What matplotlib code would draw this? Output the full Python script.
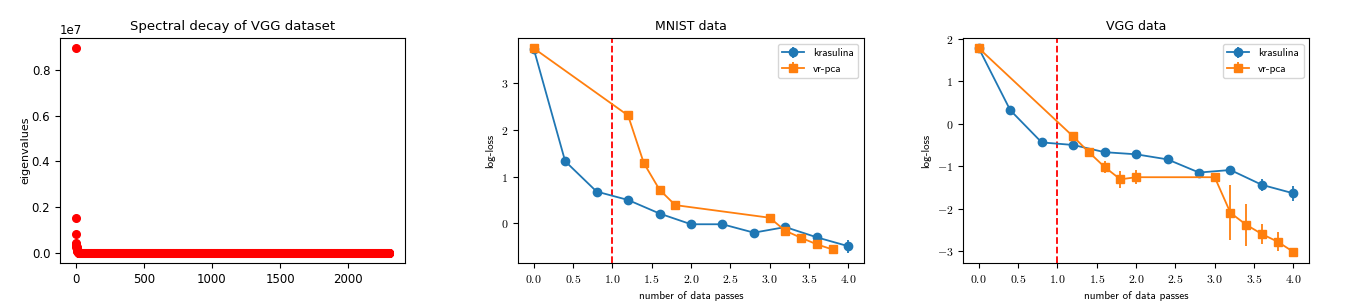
import os
import numpy as np
import matplotlib
matplotlib.use('Agg')
import matplotlib.pyplot as plt
from matplotlib.ticker import FuncFormatter, ScalarFormatter
from matplotlib.font_manager import FontProperties

plt.rcParams['mathtext.fontset'] = 'cm'

# spectral decay of VGG: leading eigenvalues, rest are ~0 at this scale
eig_head = [8.95e6, 1.55e6, 0.82e6, 0.42e6, 0.38e6, 0.33e6, 0.28e6, 0.24e6,
            0.20e6, 0.17e6, 0.14e6, 0.12e6, 0.10e6, 0.08e6, 0.07e6, 0.06e6,
            0.05e6, 0.04e6, 0.035e6, 0.03e6, 0.025e6, 0.02e6]
n_eig = 2304
eig_tail_value = 1e4

passes_kras = [0.0, 0.4, 0.8, 1.2, 1.6, 2.0, 2.4, 2.8, 3.2, 3.6, 4.0]
passes_vr = [0.0, 1.2, 1.4, 1.6, 1.8, 3.0, 3.2, 3.4, 3.6, 3.8]
passes_vr_vgg = [0.0, 1.2, 1.4, 1.6, 1.8, 2.0, 3.0, 3.2, 3.4, 3.6, 3.8, 4.0]

mnist_kras = [3.74, 1.33, 0.68, 0.50, 0.21, -0.02, -0.02, -0.20, -0.08, -0.30, -0.49]
mnist_kras_err = [0.0, 0.02, 0.02, 0.02, 0.02, 0.02, 0.02, 0.02, 0.03, 0.04, 0.14]
mnist_vr = [3.75, 2.31, 1.29, 0.72, 0.39, 0.12, -0.16, -0.31, -0.45, -0.56]
mnist_vr_err = [0.0, 0.02, 0.02, 0.02, 0.02, 0.02, 0.02, 0.02, 0.02, 0.02]

vgg_kras = [1.78, 0.32, -0.44, -0.50, -0.67, -0.72, -0.84, -1.15, -1.09, -1.44, -1.64]
vgg_kras_err = [0.0, 0.02, 0.02, 0.02, 0.02, 0.02, 0.02, 0.03, 0.03, 0.14, 0.17]
vgg_vr = [1.78, -0.30, -0.67, -1.02, -1.31, -1.26, -1.26, -2.10, -2.38, -2.60, -2.78, -3.02]
vgg_vr_err = [0.0, 0.02, 0.03, 0.15, 0.20, 0.16, 0.11, 0.65, 0.50, 0.23, 0.23, 0.02]

cmss_path = os.path.join(matplotlib.get_data_path(), 'fonts/ttf/cmss10.ttf')
cmss = FontProperties(fname=cmss_path, size=8)
leg_font = FontProperties(fname=cmss_path, size=8)

fig = plt.figure(figsize=(13.57, 3.04), dpi=100)
ax1 = fig.add_axes([0.0442, 0.135, 0.2543, 0.74])
ax2 = fig.add_axes([0.3817, 0.135, 0.255, 0.74])
ax3 = fig.add_axes([0.7097, 0.135, 0.255, 0.74])

eigs = np.array(eig_head + [eig_tail_value] * (n_eig - len(eig_head)))
ax1.plot(np.arange(n_eig), eigs, 'o', color='red', markersize=5.5)
ax1.set_title('Spectral decay of VGG dataset', fontsize=9.5)
ax1.set_ylabel('eigenvalues', fontsize=8, labelpad=1)
ax1.tick_params(labelsize=8.5)
ax1.set_yticks([0, 2e6, 4e6, 6e6, 8e6])
fmt = ScalarFormatter()
fmt.set_powerlimits((7, 7))
ax1.yaxis.set_major_formatter(fmt)
ax1.yaxis.get_offset_text().set_fontsize(8.5)

math_x = FuncFormatter(lambda v, p: '$%.1f$' % v)
math_y = FuncFormatter(lambda v, p: '$%d$' % round(v))


def loss_panel(ax, title, yk, ek, xv, yv, ev, yticks):
    ax.errorbar(passes_kras, yk, yerr=ek, marker='o', markersize=6, lw=1.3, label='krasulina')
    ax.errorbar(xv, yv, yerr=ev, marker='s', markersize=6, lw=1.3, label='vr-pca')
    ax.axvline(1.0, color='red', linestyle='--', lw=1.3)
    ax.set_title(title, fontsize=9)
    ax.set_xlabel('number of data passes', fontproperties=cmss)
    ax.set_ylabel('log-loss', fontproperties=cmss)
    ax.set_xticks(np.arange(0, 4.01, 0.5))
    ax.set_yticks(yticks)
    ax.xaxis.set_major_formatter(math_x)
    ax.yaxis.set_major_formatter(math_y)
    ax.tick_params(labelsize=8.5)
    ax.legend(loc='upper right', prop=leg_font)


loss_panel(ax2, 'MNIST data', mnist_kras, mnist_kras_err, passes_vr, mnist_vr, mnist_vr_err, [0, 1, 2, 3])
loss_panel(ax3, 'VGG data', vgg_kras, vgg_kras_err, passes_vr_vgg, vgg_vr, vgg_vr_err, [-3, -2, -1, 0, 1, 2])

fig.savefig('out.png', dpi=100)
